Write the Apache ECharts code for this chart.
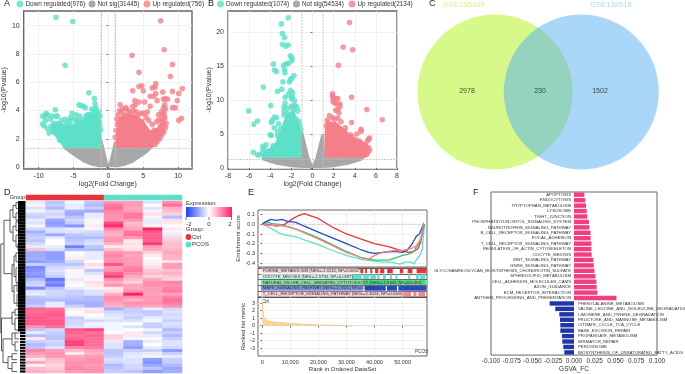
<!DOCTYPE html>
<html><head><meta charset="utf-8">
<style>html,body{margin:0;padding:0;background:#fff}#c{width:685px;height:374px}</style>
<script src="https://cdn.jsdelivr.net/npm/echarts@6/dist/echarts.min.js"></script>
</head><body><div id="c"></div>
<script>
// ---------- Panel A volcano ----------
const aNames=['Down regulated(976)','Not sig(31445)','Up regulated(756)'];
const aDownPts=[[-7.5,10.6],[-5.1,10.3],[-6.2,7.2],[-2.8,5.25],[-2,4.85],[-1.9,4.5],[-1.8,4.2],[-4.2,4.4],[-3.9,4.35],[-3.6,4.3],[-3.3,4.2],[-7.6,4.05],[-1.9,4.05],[-2.2,3.9],[-2.5,3.7],[-5.2,3.8],[-5.6,3.3],[-5.4,3.5],[-8.9,3.8],[-8.7,3.7],[-9.1,3.65],[-9.4,3.6],[-8.1,3.6],[-7.5,3.6],[-7.3,3.6],[-8.3,3.4],[-9,3.3],[-9.4,3.05],[-9.2,2.9],[-8.7,2.7],[-8.2,2.9],[-7.8,3.1],[-7.5,2.9],[-8,2.5],[-7.6,2.4],[-7.2,2.2],[-6.2,3.4],[-6,3.1],[-6.1,2.8],[-5.8,2.7],[-5.4,3],[-4.9,3.4],[-4.6,3.2],[-4.3,3.3],[-4,2.8],[-3.6,3.4],[-3.2,3.6],[-3,3.7],[-2.7,3.7],[-1.6,3.65],[-1.5,3.3],[-7,1.9],[-6.8,2.3],[-6.5,2.1],[-6.9,2.6],[-6.4,2.5],[-6.2,2.3],[-6,2],[-5.6,1.8],[-5.9,1.6],[-5.2,2.3],[-5,2.6],[-4.5,2.7],[-4.2,2.9],[-3.8,3.1],[-3.4,3.1],[-2.9,3.3],[-2.4,3.5],[-2,3.5],[-1.7,3.4],[-1.3,3.2],[-1.2,2.9],[-1.1,2.6],[-2.2,3.2],[-3.5,2.7],[-8.5,2.4],[-7.9,2.8],[-6.6,2.9],[-7.1,3.1],[-6.7,3.3],[-4.1,3.6],[-4.6,3.7],[-2.4,4.1],[-1.7,3.8],[-1.2,3.6],[-1.4,3.9]];
const aUpPts=[[7.5,10.35],[8,8.3],[3.4,7.9],[9.2,7.25],[4.4,6.7],[8.9,6.4],[6.8,5.9],[4.8,5.75],[4.4,5.7],[6.3,5.6],[6.7,5.65],[10.6,5.55],[5,5.4],[3.5,5.4],[7.8,5.3],[9.2,5.35],[10.1,5.2],[6.8,5.2],[6.5,5],[6,5],[8.5,4.8],[8.2,4.85],[7.9,4.8],[7,4.7],[5.2,4.6],[3.8,4.7],[4.4,4.6],[1.7,4.4],[3.9,4.4],[3.5,4.3],[9.9,4.7],[9.6,4.2],[9.2,4.2],[8.1,4.4],[7.9,4.2],[6,4.3],[2.5,4.2],[2.1,4.1],[1.6,4],[10.1,3.3],[10.5,3.45],[8,3.8],[7.8,3.7],[7.2,3.7],[1.2,3.4],[1.4,3.7],[1.9,3.9],[2.3,3.7],[2.7,4.05],[3,3.9],[3.3,3.8],[3.6,4],[4,3.9],[4.3,3.7],[4.7,3.8],[5.1,3.8],[5.4,3.5],[5.8,3.3],[6.3,3],[6.6,2.6],[6.9,3.2],[7.2,3.3],[7.6,3.4],[7.8,3.2],[8,3],[8.2,2.8],[8,2.5],[7.7,2.3],[7.4,2],[7,1.8],[6.7,1.6],[8.1,3.5],[7.5,2.9],[6.9,2.4],[6.5,2.2],[1,2.1],[1.1,2.6],[1.3,3],[1.5,3.2],[5.6,3.9],[8.3,3.1],[2,3.4],[4.8,3.2],[8.2,4.1],[7.6,3.9],[8,3.4],[7.4,2.6]];
const aNotOutline=[[-1.08,2],[-0.9,2],[-0.5,1.2],[0,0.2],[0.5,1.1],[0.8,1.8],[1.05,1.75],[1.05,1.38],[6.4,1.38],[5.5,0.95],[4.5,0.62],[3.5,0.3],[2.5,0.1],[1.5,0],[-1.5,0],[-2.5,0.1],[-3.5,0.3],[-4.5,0.62],[-5.5,0.95],[-6.6,1.38],[-1.08,1.38]];
const aDownOutline=[[-1,1.35],[-6.4,1.35],[-7.5,2.1],[-8.4,2.6],[-7.5,3.2],[-6.3,3],[-5,3],[-4,3.2],[-3,3.7],[-2,3.7],[-1.3,3.3],[-1,2.1]];
const aUpOutline=[[1,1.35],[1,2.1],[1.3,2.9],[1.5,3.5],[2.5,3.8],[4,3.7],[5,3.3],[6,2.6],[7,2.8],[7.9,3.4],[8.1,2.5],[7.2,1.8],[6.3,1.35]];
const aThresholds={fc:[-1,1],p:1.32};
const aXTicks=[-10,-5,0,5,10], aYTicks=[0,2,4,6,8,10];
// ---------- Panel B volcano ----------
const bNames=['Down regulated(1074)','Not sig(54534)','Up regulated(2134)'];
const bDownPts=[[-2.3,22.1],[-2.95,21.2],[-2.85,19.8],[-2.65,19.2],[-2.85,18.2],[-2.55,17.9],[-2.3,18.1],[-2.1,16.5],[-1.95,16.2],[-1.95,15.8],[-2.3,15.4],[-2.5,15.3],[-2.75,15.1],[-3.7,15.3],[-3.6,14.4],[-3.4,14.2],[-2.65,14.5],[-2.6,14],[-1.75,13.6],[-1.95,13.2],[-2.1,13],[-2.2,12.7],[-2.8,12.7],[-4.65,11.9],[-2.9,11.6],[-3.3,11.3],[-2.1,11.4],[-1.9,11.1],[-2.3,10.8],[-1.9,10.5],[-2.6,10.4],[-2,10.2],[-1.7,9.9],[-3.95,9.2],[-6.05,8.4],[-2.6,9.5],[-2.7,9],[-2,9.1],[-1.7,9.2],[-1.5,9],[-1.8,8.6],[-2.7,8.4],[-5.2,6.9],[-5.55,6.45],[-2.7,7.8],[-3.4,7.4],[-3.6,7.5],[-3.8,7],[-3.9,6.7],[-3.2,6.5],[-2.4,7.2],[-4,4.9],[-3.9,4.8],[-3.3,4.7],[-4.4,3.4],[-4.7,3.2],[-4.7,2.8],[-5.6,2.3],[-3.7,3.3],[-3,3.7],[-3.5,2.8],[-4,2.5],[-4.5,2.6],[-4.7,2.2],[-5,2],[-4.6,1.8],[-4.2,1.9],[-3.8,2],[-3.4,2.2],[-3.2,3.6],[-3,4.2],[-2.9,5],[-3,5.8],[-2.7,6],[-2.5,6.6],[-1.6,7.2],[-1.3,6.9],[-1.2,6.2],[-1.1,5.6],[-2.4,8],[-2.3,8.8],[-1.9,8],[-1.4,8.4],[-5.2,1.9],[-3.6,5.9],[-3.3,5.3]];
const bUpPts=[[3.5,21.4],[2.9,17.8],[3.8,17.4],[2.45,15.1],[3.7,10.4],[1.9,10.9],[1.9,10.5],[2,10.2],[2.2,10.2],[2.4,10.2],[1.95,9.8],[2.1,9.6],[2.3,9.4],[2.6,9.4],[2.4,8.6],[2.2,8.5],[2.6,9],[2.5,8.1],[5.15,8.6],[6.6,7.1],[1.6,7.7],[1.9,7.4],[2.1,7.2],[2.4,7.3],[2.7,6.8],[1.4,7],[3.7,6.7],[3.1,5.9],[3.05,5.4],[4.6,5.7],[4.6,5.4],[4.2,5],[3.7,4.6],[3.6,4.9],[5.4,4.4],[5.3,4.2],[5.2,4],[4.9,3.5],[5.3,3],[5,3.4],[4.4,4],[4,4.2],[4.6,3.7],[3,4.8],[2.6,5.5],[2.2,6],[1.8,6.3],[1.3,6.2],[1.5,6.6],[2,5.6],[2.5,4.8],[3.3,4.3],[3.8,3.6],[4.2,3.3],[5,2.9],[5.4,2.6],[5.2,2.2],[4.9,2.4],[5.1,2],[4.8,1.8],[4.3,3.1]];
const bNotOutline=[[-1.12,5.25],[-0.88,5.25],[-0.3,1.6],[0,0.5],[0.3,1.6],[0.85,5],[1.1,5],[1.2,1.55],[4.85,1.55],[4.7,1.1],[3.5,0.5],[2,0.1],[1,0],[-1,0],[-2,0.1],[-3.5,0.5],[-4.7,1.1],[-4.85,1.55],[-1.1,1.55]];
const bDownOutline=[[-1.1,1.5],[-4.8,1.5],[-4.5,2.5],[-3.6,3.5],[-3.3,4.5],[-3,5.5],[-2.8,6.7],[-2.4,8],[-1.8,8.5],[-1.4,7.2],[-1.1,5.5]];
const bUpOutline=[[1.15,1.5],[1.15,5.5],[1.4,6.8],[2.2,6.8],[3,5.8],[3.7,4.6],[4.5,4],[5.3,3.2],[5.5,2.4],[5,1.5]];
const bThresholds={fc:[-1,1],p:1.25};
const bXTicks=[-8,-6,-4,-2,0,2,4,6,8], bYTicks=[0,5,10,15,20];
// ---------- Panel C venn ----------
const vennSets=['GSE155489','GSE138518'];
const vennCounts=[2978,230,1502];
// ---------- Panel D heatmap ----------
const heatCols=['C1','C2','C3','C4','P1','P2','P3','P4'];
const heatGroups=[0,0,0,0,1,1,1,1];
const heatRows=[
[-0.2,-0.6,-0.1,-0.6,0.9,0.9,-0.3,1.0],[0.1,-0.5,-0.2,-0.7,1.2,0.9,0.0,1.3],[-0.3,-0.7,-0.2,-0.5,1.3,0.8,-0.3,0.7],[-0.1,-0.3,-0.8,-0.9,1.1,0.9,-0.1,0.6],[-0.4,-0.4,-0.9,-0.2,1.0,1.2,0.3,0.4],[-0.5,-0.3,-0.6,-0.2,1.0,1.2,-0.1,-0.7],[-0.2,-0.9,-0.4,-0.1,0.9,1.0,-0.2,0.3],[-0.3,-1.0,-0.5,0.1,1.6,0.6,-0.2,0.2],[-0.1,-0.9,-1.1,0.2,1.9,0.7,0.1,0.0],[-0.4,-0.3,-0.2,-0.1,1.1,0.8,2.0,0.2],[-0.8,-0.3,-0.3,-0.4,0.8,1.2,1.5,-0.1],[-0.6,-0.9,-0.6,-0.5,0.7,1.3,1.4,-0.2],[-0.5,-0.2,-0.7,-0.7,0.9,0.9,1.5,0.4],[-0.6,0.0,-0.6,-0.4,1.0,0.2,1.4,0.5],[-0.4,0.0,-0.5,-0.3,0.7,0.3,1.8,0.6],[-0.2,-0.2,-1.3,-0.6,0.2,0.2,0.9,0.6],[0.6,-0.3,-0.7,-0.7,0.6,0.3,0.8,0.7],[-0.9,-1.0,0.0,-0.2,1.0,0.9,0.4,0.8],[-0.9,-1.0,0.1,-0.2,1.1,0.8,0.2,0.7],[-0.8,-1.0,0.2,-0.2,1.0,0.9,0.0,0.7],[-1.0,-0.9,-0.4,0.0,1.0,0.9,-0.1,0.3],[-0.5,-0.6,-0.6,0.3,1.5,0.9,0.2,0.9],[-1.2,-0.4,-0.3,0.2,0.9,1.1,0.3,0.9],[-1.1,-0.3,0.1,-0.6,1.0,1.2,0.5,0.6],[-1.0,-0.4,-0.1,-0.3,1.4,1.0,0.6,0.7],[-1.1,-0.5,0.1,-0.1,1.7,0.8,0.4,0.5],[-0.7,-1.4,-0.2,0.1,1.0,0.6,0.8,0.4],
[-0.5,-1.1,-0.1,0.3,0.7,0.4,1.0,1.1],[-0.4,-1.3,0.0,0.2,1.0,0.8,1.0,1.0],[-1.2,-0.6,-0.2,0.1,0.2,0.8,0.9,1.1],[-0.3,-0.4,-0.5,-0.3,0.3,1.0,0.9,1.2],[-0.2,-0.4,-0.5,-0.3,0.7,2.0,0.8,0.8],[-0.6,-0.5,-0.6,-0.7,1.0,1.0,0.9,1.1],[-0.7,-0.7,-0.7,-0.7,1.0,0.7,0.9,1.3],[-0.7,-0.2,-0.8,-0.8,0.8,1.0,1.0,1.2],[-0.5,-0.2,-0.5,-0.8,0.7,0.9,0.8,1.0],
[1.4,1.3,0.2,0.2,-0.8,-0.5,-0.2,-0.4],[1.3,1.4,0.0,0.3,-0.4,-0.5,-0.6,-0.3],[1.4,1.5,0.1,0.0,-0.3,-0.4,-0.5,-0.4],[1.5,1.4,-0.5,-0.1,-0.2,-0.5,-0.2,-0.3],[1.5,1.5,-0.4,-0.4,-0.3,-0.3,-0.1,-0.5],[1.5,1.5,-0.4,-0.1,-0.1,0.0,-0.5,-0.3],[1.0,1.3,-0.3,-0.2,-0.1,-0.3,-0.5,-0.4],
[-0.6,-0.4,1.5,1.7,-0.1,0.0,-0.1,-0.7],[-0.2,-0.5,1.4,1.3,0.0,0.2,-0.4,-0.5],[-0.7,-0.6,1.3,1.4,0.4,0.2,-0.2,-0.7],[0.2,-0.6,1.4,1.3,0.4,-0.1,0.1,-0.5],[-0.5,-0.4,1.7,1.3,-0.2,-0.8,-0.2,-0.3],[-0.7,-0.5,1.7,1.3,-0.3,-0.8,0.0,-0.3],[-0.6,-0.3,1.1,1.2,-0.3,-1.0,-0.2,-0.4],
[1.1,0.9,0.6,0.8,-0.6,-0.5,-0.5,-1.0],[0.9,1.0,0.2,0.7,-0.6,-0.3,-0.2,-0.5],[0.7,0.9,0.8,0.9,-0.5,-0.2,-0.1,-0.2],[0.2,0.6,0.9,1.0,-0.3,-0.3,-1.0,-0.5],[0.8,0.5,1.0,1.0,-0.4,-0.3,-1.1,-0.5],[0.1,0.4,1.0,0.9,-0.7,-0.4,-0.9,-0.7],[0.6,0.5,1.1,1.0,-0.6,-0.4,-0.6,-0.9],[0.7,0.6,0.9,1.0,-0.5,-0.6,-1.0,-0.8]];
// merge height, upper row, lower row, upper child height, lower child height
const dendroMerges=[[0.8,14,44,4,1.5],[4,6,24,10,12],[10,2.5,10,13,13],[13,1,5,16,16],[13,8,13,16,16],[16,0,2,18,18],[16,3.5,6,19,19],[16,6.5,9.5,19,19],[16,11,15,18,18],[18,14,16,20,20],[12,21,30,14,14],[14,18,25,16,16],[16,17,20,18,18],[16,22,27,17,17],[14,28,34,17,17],[17,27,30,19,19],[17,31,35,19,19],[1.5,39,50,12,3],[12,37,41,15,15],[15,36,38,19,19],[15,39,43,18,18],[3,46,54,12,8],[12,44,48,15,15],[15,44,46,19,19],[15,47,50,18,18],[8,52,56,12,12],[12,51,53,17,17],[12,54,57,17,17]];
// ---------- Panel E GSEA ----------
const gseaPurine=[[0,0],[2000,0],[5000,-0.02],[8000,0],[10000,0.04],[11000,0.06],[13000,0.09],[15000,0.11],[17000,0.09],[20000,0.06],[25000,-0.03],[30000,-0.1],[35000,-0.15],[40000,-0.2],[45000,-0.23],[49000,-0.265],[52000,-0.29],[54000,-0.28],[55500,-0.25],[56500,-0.18],[57500,0]];
const gseaMapk=[[0,0],[1000,0.02],[3000,0.05],[5000,0.04],[7000,0.05],[9000,0.03],[12000,0.02],[15000,-0.02],[20000,-0.08],[25000,-0.14],[30000,-0.2],[35000,-0.26],[38000,-0.29],[40000,-0.3],[43000,-0.29],[47000,-0.28],[50000,-0.29],[51500,-0.27],[53000,-0.22],[54000,-0.17],[55000,-0.12],[56000,-0.1],[57000,-0.03],[57500,0]];
const gseaNk=[[0,0],[1500,0.03],[3000,0.01],[6000,0],[10000,-0.03],[15000,-0.08],[20000,-0.14],[25000,-0.21],[30000,-0.28],[35000,-0.34],[40000,-0.37],[45000,-0.37],[48000,-0.34],[50000,-0.32],[52000,-0.31],[54000,-0.28],[55000,-0.23],[56000,-0.18],[57000,-0.1],[57800,0]];
const gseaTcell=[[0,0],[2000,-0.01],[5000,-0.01],[8000,-0.02],[12000,-0.05],[15000,-0.09],[20000,-0.15],[25000,-0.22],[30000,-0.29],[33000,-0.32],[36000,-0.35],[38000,-0.36],[40000,-0.32],[43000,-0.29],[47000,-0.27],[50000,-0.27],[53000,-0.25],[55000,-0.22],[56500,-0.15],[57500,0.02]];
const gseaOocyte=[[0,0],[3000,-0.04],[6000,-0.09],[8000,-0.11],[12000,-0.13],[16000,-0.17],[20000,-0.21],[25000,-0.27],[30000,-0.32],[35000,-0.36],[40000,-0.38],[43000,-0.39],[46000,-0.39],[49000,-0.41],[51000,-0.39],[53000,-0.39],[54000,-0.41],[55000,-0.36],[56000,-0.33],[57000,-0.26],[57800,0]];
const rugLabels=['PURINE_METABOLISM (NES=-1.3210, NP=0.0000)','OOCYTE_MEIOSIS (NES=-1.5794, NP=0.0287)','NATURAL_KILLER_CELL_MEDIATED_CYTOTOXICITY (NES=-1.3842, NP=0.0098)','MAPK_SIGNALING_PATHWAY (NES=-1.3320, NP=0.0257)','T_CELL_RECEPTOR_SIGNALING_PATHWAY (NES=-1.4024, NP=0.0106)'];
const rugFaint=[[-500,34000],[-500,32000],[-500,58800],[-500,36000],[-500,50000]];
const rugPurine=[[35000,36000],[36600,37300],[38500,39200],[40200,41400],[42000,43500],[44500,46500],[49000,50200],[51800,53500],[55000,58500]];
const rugOocyte=[[32000,35500],[36000,38000],[38500,40500],[41000,41800],[43000,44000],[45500,46200],[47500,48200],[52000,52700],[54800,55800],[56300,58000]];
const rugNk=[[36000,45000],[45500,50000],[50500,53500],[54000,55000],[55800,58000]];
const rugMapk=[[36500,44000],[44400,48000],[48500,58500]];
const rugTcell=[[50300,53000],[53800,55000],[55600,58000]];
const metricCurve=[[0,3.3],[200,3.2],[500,1.2],[1000,0.9],[2000,0.65],[4000,0.5],[7000,0.4],[10000,0.3],[15000,0.2],[20000,0.1],[25000,0.05],[30000,-0.02],[32000,-0.1]];
const rankTicks=[0,10000,20000,30000,40000,50000];
const esTicks=[-0.4,-0.3,-0.2,-0.1,0,0.1];
const metricTicks=[-3,-2,-1,0,1,2,3];
// ---------- Panel F GSVA ----------
const gsvaNames=['APOPTOSIS','ENDOCYTOSIS','TRYPTOPHAN_METABOLISM','LYSOSOME','TIGHT_JUNCTION','PHOSPHATIDYLINOSITOL_SIGNALING_SYSTEM','NEUROTROPHIN_SIGNALING_PATHWAY','B_CELL_RECEPTOR_SIGNALING_PATHWAY','FOCAL_ADHESION','T_CELL_RECEPTOR_SIGNALING_PATHWAY','REGULATION_OF_ACTIN_CYTOSKELETON','OOCYTE_MEIOSIS','WNT_SIGNALING_PATHWAY','GNRH_SIGNALING_PATHWAY','GLYCOSAMINOGLYCAN_BIOSYNTHESIS_CHONDROITIN_SULFATE','SPHINGOLIPID_METABOLISM','CELL_ADHESION_MOLECULES_CAMS','AXON_GUIDANCE','ECM_RECEPTOR_INTERACTION','ANTIGEN_PROCESSING_AND_PRESENTATION','PHENYLALANINE_METABOLISM','VALINE_LEUCINE_AND_ISOLEUCINE_DEGRADATION','LIMONENE_AND_PINENE_DEGRADATION','FRUCTOSE_AND_MANNOSE_METABOLISM','CITRATE_CYCLE_TCA_CYCLE','BASE_EXCISION_REPAIR','PROPANOATE_METABOLISM','MISMATCH_REPAIR','PEROXISOME','BIOSYNTHESIS_OF_UNSATURATED_FATTY_ACIDS'];
const gsvaValues=[0.0125,0.0137,0.0145,0.0153,0.016,0.018,0.0185,0.02,0.02,0.021,0.021,0.0213,0.0234,0.0238,0.0246,0.0258,0.027,0.0274,0.0282,0.0512,-0.0294,-0.0226,-0.0177,-0.0169,-0.0165,-0.0165,-0.0145,-0.0141,-0.0129,-0.0117];

// ---------- styling / layout ----------
const FONT='"Liberation Sans",Arial,sans-serif';
const TEAL='#5ce0c8',GRAY='#a8a8a8',PINK='#f47f8b';
const LAB='#333';
const layoutGrids=[
 {left:23,top:11,width:169,height:158},
 {left:228,top:11,width:169,height:158},
 {left:415,top:0,width:270,height:185},
 {left:26,top:195,width:156,height:5},
 {left:26,top:201,width:156,height:172},
 {left:0,top:201,width:26,height:172},
 {left:258,top:210,width:169,height:57},
 {left:258,top:268,width:169,height:29},
 {left:258,top:297,width:169,height:59},
 {left:491,top:192,width:166,height:165}
];
const grids=layoutGrids.map((g,i)=>Object.assign({show:[0,1,6,7,8,9].includes(i),borderColor:'#666',borderWidth:[0,1].includes(i)?1.4:1,backgroundColor:'transparent',containLabel:false},g));
function vAxis(gi,min,max,ticks,o){
  o=o||{};
  return Object.assign({type:'value',gridIndex:gi,min,max,
    axisLine:{show:false},
    axisTick:{show:o.noLabel?false:true,length:2,customValues:ticks,lineStyle:{color:'#444',width:0.7}},
    axisLabel:{show:!o.noLabel,customValues:ticks,fontSize:o.fs||7,color:LAB,margin:o.margin||4,fontFamily:FONT,formatter:o.fmt,hideOverlap:false},
    splitLine:{show:!o.noSplit,lineStyle:{color:'#ececec',width:0.8}},
    nameLocation:'middle',nameTextStyle:{fontSize:o.nfs||7,color:LAB,fontFamily:FONT},name:o.name||'',nameGap:o.gap||12
  },o.extra||{});
}
function hidden(gi,min,max,inv){return {type:'value',gridIndex:gi,min,max,inverse:!!inv,show:false,splitLine:{show:false}};}
function polygon(gi,name,pts,color){
  return {type:'custom',name,xAxisIndex:gi,yAxisIndex:gi,data:[[0,0]],silent:true,itemStyle:{color},
    renderItem:(p,api)=>({type:'polygon',shape:{points:pts.map(q=>api.coord(q))},style:{fill:color}})};
}
function pts(gi,name,data,color,size){
  return {type:'scatter',name,xAxisIndex:gi,yAxisIndex:gi,data,symbolSize:size,itemStyle:{color,opacity:0.8},silent:true};
}
function thresh(gi,t,ymax,xmin,xmax){
  const ls={color:'#bdbdbd',width:gi==0?1.2:0.8};
  return {type:'custom',xAxisIndex:gi,yAxisIndex:gi,silent:true,data:[[0,0]],z:3,
    renderItem:(p,api)=>({type:'group',children:[
      ...t.fc.map(x=>{const a=api.coord([x,-0.15]),b=api.coord([x,ymax]);return {type:'line',shape:{x1:a[0],y1:a[1],x2:b[0],y2:b[1]},style:{stroke:ls.color,lineDash:[2,1],lineWidth:ls.width}}}),
      (()=>{const a=api.coord([xmin,t.p]),b=api.coord([xmax,t.p]);return {type:'line',shape:{x1:a[0],y1:a[1],x2:b[0],y2:b[1]},style:{stroke:ls.color,lineDash:[2,1],lineWidth:0.8}}})()
    ]})};
}
const legendBase={icon:'circle',itemWidth:7,itemHeight:7,textStyle:{fontSize:6.4,color:LAB,fontFamily:FONT,padding:[0,0,0,-3]},selectedMode:false,padding:0,top:0.5};
const legendLefts=[[16.5,aNames[0]],[88.5,aNames[1]],[143.5,aNames[2]],[217,bNames[0]],[293,bNames[1]],[348.5,bNames[2]]];

const xAxes=[],yAxes=[];
// A
xAxes.push(vAxis(0,-12.14,12,aXTicks,{name:'log2(Fold Change)',gap:9}));
yAxes.push(vAxis(0,-0.14,11.04,aYTicks,{name:'-log10(Pvalue)',gap:12}));
// B
xAxes.push(vAxis(1,-8,8,bXTicks,{name:'log2(Fold Change)',gap:9}));
yAxes.push(vAxis(1,-0.15,23.1,bYTicks,{name:'-log10(Pvalue)',gap:12}));
// C
xAxes.push(hidden(2,0,270)); yAxes.push(hidden(2,0,185,true));
// D group bar
xAxes.push({type:'category',gridIndex:3,data:heatCols,show:false});
yAxes.push({type:'category',gridIndex:3,data:['Group'],axisLine:{show:false},axisTick:{show:false},axisLabel:{fontSize:5.5,color:LAB,margin:1,fontFamily:FONT}});
// D heat
xAxes.push({type:'category',gridIndex:4,data:heatCols,show:false});
yAxes.push({type:'category',gridIndex:4,data:heatRows.map((r,i)=>i),show:false,inverse:true});
// D dendro
xAxes.push(hidden(5,0,26)); yAxes.push(hidden(5,-0.5,heatRows.length-0.5,true));
// E top
xAxes.push(vAxis(6,-1500,58700,rankTicks,{noLabel:true}));
yAxes.push(vAxis(6,-0.44,0.147,esTicks,{fs:5.5,margin:3,name:'Enrichment score',gap:10,nfs:6,fmt:v=>v.toFixed(1)}));
// E rug
xAxes.push(hidden(7,-1500,58700));
yAxes.push({type:'value',gridIndex:7,min:0,max:5,interval:1,inverse:true,axisLabel:{show:false},axisTick:{show:false},axisLine:{show:false},splitLine:{show:true,lineStyle:{color:'#444',width:0.8}}});
// E metric
xAxes.push(vAxis(8,-1500,58700,rankTicks,{fs:5.5,margin:3,name:'Rank in Ordered DataSet',gap:9,nfs:6,fmt:v=>v.toLocaleString('en-US')}));
yAxes.push(vAxis(8,-4.05,3.83,metricTicks,{fs:5.5,margin:3,name:'Ranked list metric',gap:10,nfs:6}));
// F
xAxes.push({type:'value',gridIndex:9,min:-0.1,max:0.1,interval:0.025,axisLine:{show:false},splitLine:{show:false},axisTick:{length:2,lineStyle:{color:'#444',width:0.7}},axisLabel:{fontSize:6.5,color:LAB,margin:3,fontFamily:FONT,formatter:v=>v.toFixed(3),hideOverlap:false},name:'GSVA_FC',nameLocation:'middle',nameGap:8,nameTextStyle:{fontSize:6.5,color:LAB,fontFamily:FONT}});
yAxes.push({type:'category',gridIndex:9,data:gsvaNames,inverse:true,show:false});

const series=[];
// A, B
series.push(polygon(0,aNames[1],aNotOutline,GRAY),polygon(0,'aDownFill',aDownOutline,TEAL),polygon(0,'aUpFill',aUpOutline,PINK));
series.push(pts(0,aNames[0],aDownPts,TEAL,5.6),pts(0,aNames[2],aUpPts,PINK,5.6),thresh(0,aThresholds,11.04,-12.14,12));
series.push(polygon(1,bNames[1],bNotOutline,GRAY),polygon(1,'bDownFill',bDownOutline,TEAL),polygon(1,'bUpFill',bUpOutline,PINK));
series.push(pts(1,bNames[0],bDownPts,TEAL,5.6),pts(1,bNames[2],bUpPts,PINK,5.6),thresh(1,bThresholds,23.1,-8,8));
// C venn
const vennPos=[[80,92],[166.3,92]], vennCountPos=[[52,91],[125,91],[185,91]], vennTitlePos=[[49,5],[196,5]];
series.push({type:'scatter',xAxisIndex:2,yAxisIndex:2,silent:true,symbolSize:155,data:[{value:vennPos[0],itemStyle:{color:'#d6f98a',opacity:1}}],z:1});
series.push({type:'scatter',xAxisIndex:2,yAxisIndex:2,silent:true,symbolSize:155,data:[{value:vennPos[1],itemStyle:{color:'#55adf1',opacity:0.5}}],z:2});
series.push({type:'scatter',xAxisIndex:2,yAxisIndex:2,silent:true,symbolSize:0,z:3,data:vennCounts.map((c,i)=>({value:vennCountPos[i],label:{show:true,position:'inside',formatter:String(c),fontSize:7,color:'#222',fontFamily:FONT}}))});
const vennTitleColors=['#cdee70','#9fd0f5'];
series.push({type:'scatter',xAxisIndex:2,yAxisIndex:2,silent:true,symbolSize:0,z:3,data:vennSets.map((c,i)=>({value:vennTitlePos[i],label:{show:true,position:'inside',formatter:c,fontSize:7.6,color:vennTitleColors[i],fontFamily:FONT}}))});
// D
const groupColors=['#e8323c',TEAL];
series.push({type:'heatmap',xAxisIndex:3,yAxisIndex:3,silent:true,data:heatGroups.map((g,i)=>({value:[i,0,g],itemStyle:{color:groupColors[g]}}))});
const heatIdx=series.length;
series.push({type:'heatmap',xAxisIndex:4,yAxisIndex:4,silent:true,data:heatRows.flatMap((r,y)=>r.map((v,x)=>[x,y,v]))});
const dseg=[];
dendroMerges.forEach(m=>{dseg.push([m[0],m[1],m[0],m[2]],[m[0],m[1],m[3],m[1]],[m[0],m[2],m[4],m[2]]);});
series.push({type:'custom',xAxisIndex:5,yAxisIndex:5,silent:true,data:dseg,
  renderItem:(p,api)=>{const a=api.coord([api.value(0),api.value(1)]),b=api.coord([api.value(2),api.value(3)]);return {type:'line',shape:{x1:a[0],y1:a[1],x2:b[0],y2:b[1]},style:{stroke:'#333',lineWidth:0.8}}}});
series.push({type:'custom',xAxisIndex:5,yAxisIndex:5,silent:true,data:heatRows.map((r,i)=>[i]),
  renderItem:(p,api)=>{const y=api.value(0),a=api.coord([y>=44?20:18,y]),b=api.coord([25.5,y]);return {type:'line',shape:{x1:a[0],y1:a[1],x2:b[0],y2:b[1]},style:{stroke:'#000',lineWidth:y>=44?2.2:3}}}});
// E curves
[[gseaPurine,'#e8323c'],[gseaOocyte,'#5ee0c6'],[gseaNk,'#3cc46a'],[gseaMapk,'#2a48c0'],[gseaTcell,'#f08088']].forEach(c=>{
  series.push({type:'line',xAxisIndex:6,yAxisIndex:6,silent:true,data:c[0],showSymbol:false,lineStyle:{color:c[1],width:1.3},itemStyle:{color:c[1]}});
});
// E zero line
series.push({type:'line',xAxisIndex:6,yAxisIndex:6,silent:true,showSymbol:false,data:[[-1500,0],[58700,0]],lineStyle:{color:'#bbb',width:0.7,type:'dashed'},z:1});
// E rug
const rugColors=['#e8323c','#5ee0c6','#4cd080','#2a48c0','#f08a90'];
const rugFaintColors=['#f9d6d8','#c9f3ea','#7fe09f','#7d90dc','#f9d2d4'];
const rugData=[];
rugFaint.forEach((s,r)=>rugData.push([r,s[0],s[1],rugFaintColors[r]]));
[rugPurine,rugOocyte,rugNk,rugMapk,rugTcell].forEach((segs,r)=>segs.forEach(s=>rugData.push([r,s[0],s[1],rugColors[r]])));
series.push({type:'custom',xAxisIndex:7,yAxisIndex:7,silent:true,data:rugData.map(d=>d.slice(0,3)),
  renderItem:(p,api)=>{const r=api.value(0),a=api.coord([api.value(1),r]),b=api.coord([api.value(2),r+1]);
    return {type:'rect',shape:{x:a[0],y:a[1]+0.5,width:b[0]-a[0],height:b[1]-a[1]-1},style:{fill:rugData[p.dataIndex][3]}}}});
series.push({type:'custom',xAxisIndex:7,yAxisIndex:7,silent:true,z:4,data:rugLabels.map((t,i)=>[i]),
  renderItem:(p,api)=>{const r=api.value(0),a=api.coord([200,r+0.5]);return {type:'text',style:{x:a[0],y:a[1],text:rugLabels[r],fontSize:4.2,fontFamily:FONT,fill:'#333',verticalAlign:'middle'}}}});
// E metric
series.push({type:'line',xAxisIndex:8,yAxisIndex:8,silent:true,data:metricCurve,showSymbol:false,lineStyle:{color:'#f5c56f',width:0.8},areaStyle:{color:'#fbd591',opacity:1},markLine:{silent:true,symbol:'none',label:{show:false},lineStyle:{color:'#ccc',width:0.7,type:'dashed'},data:[{yAxis:0}]}});
// F
series.push({type:'bar',xAxisIndex:9,yAxisIndex:9,silent:true,barWidth:4.4,
  data:gsvaValues.map((v,i)=>({value:v,itemStyle:{color:v>0?'#ee3f82':'#2036a8'},label:{show:true,position:v>0?'left':'right',distance:v>0?3:4,formatter:gsvaNames[i],fontSize:4.3,color:LAB,fontFamily:FONT}}))});

const graphic=[
 ...[['A',4,-1],['B',208,-1],['C',429,-1],['D',4,188],['E',248,188],['F',473,188]].map(l=>({type:'text',left:l[1],top:l[2],style:{text:l[0],fontSize:9,fill:'#222',fontFamily:FONT}})),
 {type:'text',left:186,top:200.5,style:{text:'Expression',fontSize:6,fill:LAB,fontFamily:FONT}},
 {type:'rect',shape:{x:186,y:207,width:46,height:10},style:{fill:{type:'linear',x:0,y:0,x2:1,y2:0,colorStops:[{offset:0,color:'#1f3dff'},{offset:0.5,color:'#ffffff'},{offset:1,color:'#ff2060'}]}}},
 ...[['-2',186,189],['0',209,209],['2',231.5,230]].flatMap(t=>[
   {type:'line',shape:{x1:t[1],y1:217,x2:t[1],y2:220},style:{stroke:'#444',lineWidth:0.7}},
   {type:'text',x:t[2],y:224,style:{text:t[0],fontSize:6,fill:LAB,fontFamily:FONT,align:'center',verticalAlign:'middle'}}]),
 {type:'text',left:186,top:226,style:{text:'Group:',fontSize:6,fill:LAB,fontFamily:FONT}},
 {type:'circle',shape:{cx:188.5,cy:237,r:2.9},style:{fill:'#e8323c'}},
 {type:'text',left:192,top:234,style:{text:'Ctrl',fontSize:6,fill:LAB,fontFamily:FONT}},
 {type:'circle',shape:{cx:188.5,cy:244.5,r:2.9},style:{fill:TEAL}},
 {type:'text',left:192,top:241.5,style:{text:'PCOS',fontSize:6,fill:LAB,fontFamily:FONT}},
 {type:'text',left:262,top:299,style:{text:'Ctrl',fontSize:4.6,fill:LAB,fontFamily:FONT}},
 {type:'text',left:415,top:349,style:{text:'PCOS',fontSize:4.6,fill:LAB,fontFamily:FONT}}
];

const chart=echarts.init(document.getElementById('c'),null,{renderer:'canvas'});
chart.setOption({
  animation:false,backgroundColor:'#fff',textStyle:{fontFamily:FONT},
  tooltip:{show:false},
  grid:grids,xAxis:xAxes,yAxis:yAxes,series,graphic,
  legend:legendLefts.map(l=>Object.assign({},legendBase,{left:l[0],data:[l[1]]})),
  visualMap:{show:false,seriesIndex:heatIdx,min:-2,max:2,inRange:{color:['#1f3dff','#ffffff','#ff2060']}}
});
</script></body></html>
